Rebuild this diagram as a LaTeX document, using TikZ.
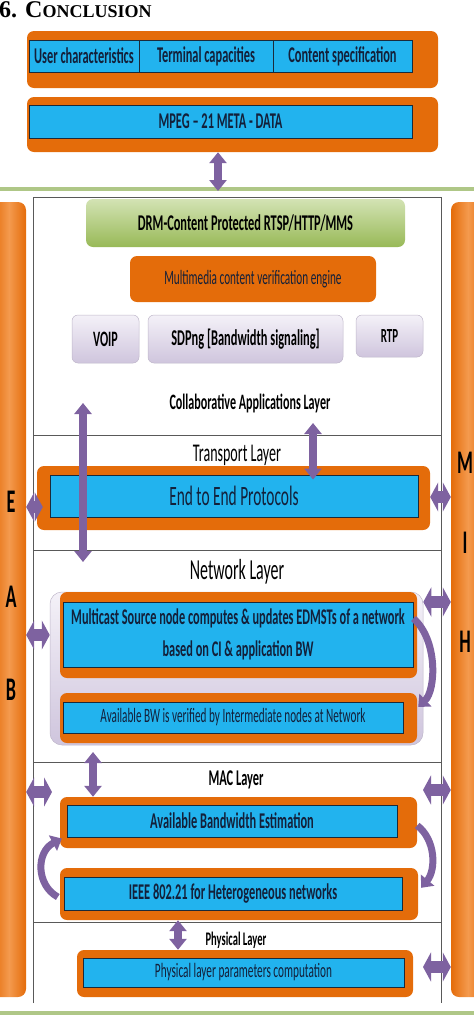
\documentclass[tikz,border=0pt]{standalone}
\usepackage{fontspec}
\setmainfont{Carlito}[FakeStretch=0.55]
\newfontfamily\titelfont{Liberation Serif}
\usetikzlibrary{arrows.meta,calc}

\definecolor{orangeD}{HTML}{E46C0A}
\definecolor{orangeL}{HTML}{F49A4E}
\definecolor{cyanB}{HTML}{22B3EE}
\definecolor{navyB}{HTML}{1B2A3A}
\definecolor{textC}{HTML}{13203A}
\definecolor{purpC}{HTML}{7E62A0}
\definecolor{greenL}{HTML}{D3E3B4}
\definecolor{greenD}{HTML}{98B957}
\definecolor{lineG}{HTML}{AFC787}
\definecolor{lavL}{HTML}{F4F1F8}
\definecolor{lavD}{HTML}{CFC5DD}

\tikzset{
  orbox/.style={fill=orangeD, rounded corners=7pt, inner sep=0pt},
  bluebox/.style={fill=cyanB, draw=navyB, line width=0.9pt, inner sep=0pt, text=textC},
  grbox/.style={top color=greenL, bottom color=greenD, rounded corners=7pt, inner sep=0pt},
  lavbox/.style={top color=lavL, bottom color=lavD, draw=lavD!80!gray, line width=0.5pt, rounded corners=6pt, inner sep=0pt},
  sidebar/.style={left color=orangeD, right color=orangeD, middle color=orangeL, rounded corners=8pt},
  ram/.style={draw=gray!70!black, line width=0.8pt},
  gline/.style={draw=lineG, line width=4pt},
  layer/.style={inner sep=0pt, text=black},
  bokstav/.style={inner sep=0pt, font=\bfseries\fontsize{33}{33}\selectfont},
  hpil/.style={draw=purpC, line width=12pt, {Triangle[width=29pt,length=8pt]}-{Triangle[width=29pt,length=8pt]}},
  vpil/.style={draw=purpC, line width=8pt, {Triangle[width=17pt,length=11pt]}-{Triangle[width=17pt,length=11pt]}},
  kpil/.style={draw=purpC, line width=7pt, -{Triangle[width=17pt,length=10pt]}},
  b22/.style={font=\bfseries\fontsize{22.5}{22.5}\selectfont},
  r20/.style={font=\fontsize{20.4}{20.4}\selectfont}
}

\begin{document}
\begin{tikzpicture}[x=1pt, y=-1pt]
  \useasboundingbox (0,0) rectangle (474,1015);

  % Rubrik
  \node[anchor=west, inner sep=0pt, font=\titelfont\bfseries\fontsize{24}{24}\selectfont] (rubrik) at (-1,9.5)
    {6. C{\fontsize{18}{18}\selectfont ONCLUSION}};

  % MPEG-21 overst
  \node[orbox, minimum width=411pt, minimum height=57pt] (topram) at (232.5,59.5) {};
  \node[bluebox, b22, minimum width=110pt, minimum height=32pt] (userc) at (84,56) {User characteristics};
  \node[bluebox, b22, minimum width=134pt, minimum height=32pt] (termc) at (206,56) {Terminal capacities};
  \node[bluebox, b22, minimum width=139pt, minimum height=32pt] (contc) at (342.5,56) {Content specification};
  \node[orbox, minimum width=411pt, minimum height=55pt] (mpegram) at (232.5,124.5) {};
  \node[bluebox, b22, minimum width=383pt, minimum height=33pt] (mpeg) at (220.5,121.5) {MPEG -- 21 META - DATA};

  % Grona linjer och ram
  \draw[gline] (0,189) -- (474,189);
  \draw[gline] (0,1013) -- (474,1013);
  \draw[ram] (33,1003) -- (33,197) -- (441,197) -- (441,1003);
  \foreach \y in {435, 550, 762, 922} {
      \draw[ram] (33,\y) -- (441,\y);
    }
  \coordinate (gl) at (218,191);
  \draw[vpil] (mpegram.south -| gl) -- (gl);

  % Sidostaplar EAB och MIH
  \node[sidebar, minimum width=34pt, minimum height=795pt] (eab) at (9,599.5) {};
  \node[sidebar, minimum width=34pt, minimum height=795pt] (mih) at (468,599.5) {};
  \foreach \b/\y in {E/502, A/597, B/690} {
      \node[bokstav] (eab\b) at (11,\y) {\b};
    }
  \foreach \b/\y in {M/463, I/543, H/642} {
      \node[bokstav] (mih\b) at (465,\y) {\b};
    }

  % Collaborative Applications Layer
  \node[grbox, font=\bfseries\fontsize{22.5}{22.5}\selectfont, minimum width=319pt, minimum height=48pt] (drm) at (245.5,223) {DRM-Content Protected RTSP/HTTP/MMS};
  \node[orbox, r20, text=textC, minimum width=246pt, minimum height=46pt] (verif) at (253,279) {Multimedia content verification engine};
  \node[lavbox, font=\bfseries\fontsize{22}{22}\selectfont, minimum width=67pt, minimum height=48pt] (voip) at (105.5,339) {VOIP};
  \node[lavbox, font=\bfseries\fontsize{22.6}{22.6}\selectfont, minimum width=195pt, minimum height=48pt] (sdpng) at (245.5,339) {SDPng [Bandwidth signaling]};
  \node[lavbox, font=\bfseries\fontsize{20}{20}\selectfont, minimum width=67pt, minimum height=42pt] (rtp) at (389.5,336) {RTP};
  \node[layer, font=\bfseries\fontsize{22}{22}\selectfont] (collab) at (250,403) {Collaborative Applications Layer};

  % Transport Layer
  \node[layer, font=\fontsize{25.5}{25.5}\selectfont] (translager) at (237,455) {Transport Layer};
  \node[orbox, minimum width=393pt, minimum height=64pt] (e2e) at (233.5,498) {};
  \node[bluebox, font=\fontsize{28}{28}\selectfont, minimum width=368pt, minimum height=42pt] (e2eblue) at (234,496) {End to End Protocols};
  \coordinate (vA) at (83,403);
  \coordinate (vB) at (83,562);
  \draw[vpil] (vA) -- (vB);
  \coordinate (tA) at (313,423);
  \draw[vpil] (tA) -- ($(e2eblue.north -| tA)+(0,5)$);
  \draw[hpil] (eab.east |- 0,507) -- ($(e2e.west |- 0,507)+(6,0)$);
  \draw[hpil] (e2e.east |- 0,497) -- (mih.west |- 0,497);

  % Network Layer
  \node[layer, font=\fontsize{29}{29}\selectfont] (netlager) at (237,572) {Network Layer};
  \node[lavbox, rounded corners=12pt, minimum width=373pt, minimum height=153pt] (netbg) at (236.5,668.5) {};
  \node[orbox, minimum width=357pt, minimum height=86pt] (mcast) at (238.5,635) {};
  \node[bluebox, align=center, font=\bfseries\fontsize{22.4}{32}\selectfont, minimum width=350pt, minimum height=65pt] (mcastblue) at (238,634.5)
    {Multicast Source node computes \& updates EDMSTs of a network\\based on CI \& application BW};
  \node[orbox, minimum width=357pt, minimum height=50pt] (avbw) at (238.5,718) {};
  \node[bluebox, r20, minimum width=340pt, minimum height=31pt] (avbwblue) at (233,717.5) {Available BW is verified by Intermediate nodes at Network};
  \draw[kpil] ($(mcastblue.east)+(0,-16)$) .. controls (438,640) and (436,690) .. ($(avbw.east)+(1,-11)$);
  \draw[hpil] (eab.east |- 0,635) -- (netbg.west |- 0,635);
  \draw[hpil] (netbg.east |- 0,602) -- (mih.west |- 0,602);

  % MAC Layer
  \node[layer, b22] (maclager) at (236,780) {MAC Layer};
  \node[orbox, minimum width=357pt, minimum height=51pt] (abe) at (238.5,822.5) {};
  \node[bluebox, b22, minimum width=330pt, minimum height=32pt] (abeblue) at (232,821) {Available Bandwidth Estimation};
  \node[orbox, minimum width=358pt, minimum height=52pt] (ieee) at (239,894) {};
  \node[bluebox, b22, minimum width=338pt, minimum height=33pt] (ieeeblue) at (233,893.5) {IEEE 802.21 for Heterogeneous networks};
  \coordinate (mA) at (93,752);
  \draw[vpil] (mA) -- (abe.north -| mA);
  \coordinate (mL) at (52,792);
  \draw[hpil] (eab.east |- mL) -- (mL);
  \coordinate (mR) at (423,790);
  \draw[hpil] (mR) -- (mih.west |- mR);
  \draw[kpil] ($(abe.east)+(0,3)$) .. controls (436,840) and (436,870) .. ($(ieee.north east)+(3,20)$);
  \draw[kpil] ($(ieee.west)+(-2,3)$) .. controls (36,885) and (36,852) .. ($(abe.west)+(2,16)$);

  % Physical Layer
  \node[layer, font=\bfseries\fontsize{19.2}{19.2}\selectfont] (phylager) at (236,940) {Physical Layer};
  \node[orbox, minimum width=336pt, minimum height=47pt] (phy) at (245,973.5) {};
  \node[bluebox, font=\fontsize{20.5}{20.5}\selectfont, minimum width=321pt, minimum height=29pt] (phyblue) at (243.5,972.5) {Physical layer parameters computation};
  \coordinate (pv) at (178,0);
  \draw[vpil] (ieee.south -| pv) -- (phy.north -| pv);
  \coordinate (pR) at (423,967);
  \draw[hpil] (pR) -- (mih.west |- pR);
\end{tikzpicture}
\end{document}
